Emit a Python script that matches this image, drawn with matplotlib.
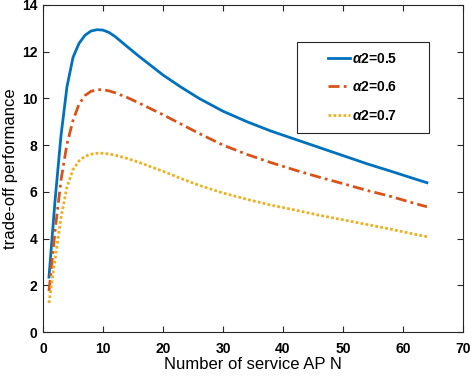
import matplotlib
matplotlib.use("Agg")
import matplotlib.pyplot as plt
from matplotlib.patches import Rectangle

N = [1, 2, 3, 4, 5, 6, 7, 8, 9, 10, 11, 12, 14, 16, 18, 20, 23, 26, 30, 34, 38, 42, 46, 50, 54, 58, 62, 64]
blue = [2.35, 5.6, 8.4, 10.5, 11.75, 12.35, 12.7, 12.88, 12.94, 12.92, 12.82, 12.65, 12.22, 11.8, 11.4, 11.0,
        10.48, 10.0, 9.45, 9.0, 8.6, 8.25, 7.9, 7.55, 7.2, 6.88, 6.55, 6.39]
red = [1.75, 4.3, 6.5, 8.05, 9.05, 9.75, 10.12, 10.3, 10.37, 10.37, 10.32, 10.24, 10.04, 9.8, 9.55, 9.3,
       8.9, 8.5, 8.0, 7.6, 7.25, 6.93, 6.63, 6.35, 6.06, 5.8, 5.5, 5.36]
yellow = [1.24, 3.1, 4.9, 6.2, 6.95, 7.32, 7.52, 7.61, 7.65, 7.65, 7.62, 7.57, 7.43, 7.26, 7.07, 6.88,
          6.57, 6.28, 5.95, 5.68, 5.43, 5.22, 5.0, 4.8, 4.6, 4.4, 4.18, 4.08]
labels = [r'$\alpha$2=0.5', r'$\alpha$2=0.6', r'$\alpha$2=0.7']

plt.rcParams['font.family'] = ['Liberation Sans', 'DejaVu Sans']
plt.rcParams['mathtext.fontset'] = 'custom'
plt.rcParams['mathtext.it'] = 'Liberation Sans:italic:bold'
plt.rcParams['mathtext.rm'] = 'Liberation Sans:bold'

fig = plt.figure(figsize=(4.74, 3.76), dpi=100)
ax = fig.add_axes([0.0907, 0.117, 0.886, 0.870])

ax.plot(N, blue, color='#0072BD', lw=2.0, ls='-', label=labels[0])
ax.plot(N, red, color='#D95319', lw=2.0, ls=(0, (4, 1.5, 1, 1.5)), label=labels[1])
ax.plot(N, yellow, color='#EDB120', lw=2.0, ls=(0, (1, 0.8)), label=labels[2])

ax.set_xlim(0, 70)
ax.set_ylim(0, 14)
ax.set_xticks(range(0, 71, 10))
ax.set_yticks(range(0, 15, 2))
ax.tick_params(direction='in', top=True, right=True, length=4, width=0.8,
               labelsize=10, colors='#262626', labelcolor='black')
ax.tick_params(axis='x', pad=7)
ax.tick_params(axis='y', pad=4)
for lab in ax.get_xticklabels() + ax.get_yticklabels():
    lab.set_fontweight('bold')
for s in ax.spines.values():
    s.set_color('#262626')
    s.set_linewidth(0.8)
ax.set_xlabel('Number of service AP N', fontsize=12, labelpad=1)
ax.set_ylabel('trade-off performance', fontsize=12, labelpad=3)

ax.add_patch(Rectangle((0.604, 0.608), 0.316, 0.280, transform=ax.transAxes,
                       facecolor='white', edgecolor='#262626', lw=0.8, zorder=4))
leg = ax.legend(loc='center', bbox_to_anchor=(0.762, 0.748),
                prop={'size': 10, 'weight': 'bold'},
                frameon=False, handlelength=1.6, labelspacing=1.05, borderpad=0.0,
                handletextpad=0.15)
leg.set_zorder(5)

fig.savefig('out.png', dpi=100)
